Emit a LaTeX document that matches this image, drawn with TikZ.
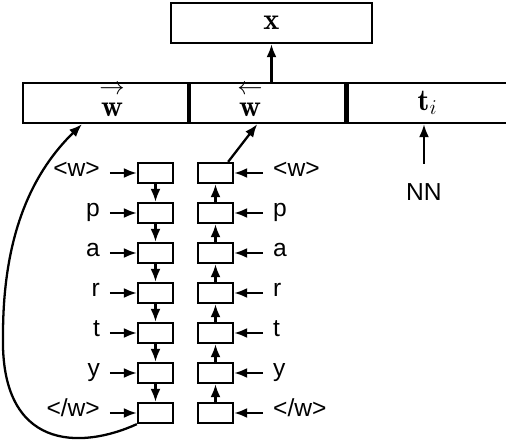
\documentclass[tikz,border=0pt]{standalone}
\usepackage{fontspec}
\setsansfont{Liberation Sans}
\usetikzlibrary{positioning,arrows.meta}

\tikzset{
  blocco/.style={draw, line width=1.3pt, minimum height=0.8cm, inner sep=0pt,
    font=\fontsize{17.28}{20}\selectfont},
  cella/.style={draw, line width=1.3pt, minimum width=0.7cm, minimum height=0.4cm, inner sep=0pt},
  lettera/.style={font=\sffamily\fontsize{14}{16}\selectfont, inner sep=0pt, outer sep=0.2cm},
  vettore/.style={font=\fontsize{17.28}{20}\selectfont, inner sep=0pt},
  punta/.style={font=\fontsize{14}{16}\selectfont, inner sep=0pt},
  freccia/.style={-{Latex[length=2.6mm,width=2mm]}, line width=1.3pt},
}

\begin{document}
\begin{tikzpicture}
        \useasboundingbox (0,0) rectangle (10.12,-8.86);

        % Livello superiore
        \node[blocco, minimum width=4.02cm] (xb) at (5.43,-0.46) {$\mathbf{x}$};

        % Rappresentazione della parola
        \node[blocco, minimum width=3.3cm] (fw) at (2.11,-2.06) {};
        \node[blocco, minimum width=3.1cm, right=0pt of fw] (bw) {};
        \node[blocco, minimum width=3.2cm, right=0pt of bw] (tb) {$\mathbf{t}_i$};
        \node[vettore] (fwl) at (2.24,-2.2) {$\mathbf{w}$};
        \node[punta] (fwa) at (2.24,-1.8) {$\rightarrow$};
        \node[vettore] (bwl) at (5.0,-2.2) {$\mathbf{w}$};
        \node[punta] (bwa) at (5.0,-1.8) {$\leftarrow$};

        \draw[freccia] (xb.south |- bw.north) -- (xb.south);

        % Catene di caratteri
        \foreach \c [count=\i] in {{\textless w\textgreater}, p, a, r, t, y, {\textless/w\textgreater}} {
            \node[cella] (fc\i) at (3.11,-2.66-0.8*\i) {};
            \node[cella] (bc\i) at (4.31,-2.66-0.8*\i) {};
            \node[lettera, left=0.54cm of fc\i, anchor=mid east] (fl\i) {\c};
            \node[lettera, right=0.58cm of bc\i, anchor=mid west] (bl\i) {\c};
            \draw[freccia] (fl\i.mid east) -- (fc\i.west);
            \draw[freccia] (bl\i.mid west) -- (bc\i.east);
        }
        \foreach \i/\j in {1/2,2/3,3/4,4/5,5/6,6/7} {
            \draw[freccia] (fc\i) -- (fc\j);
            \draw[freccia] (bc\j) -- (bc\i);
        }

        % Collegamenti verso l'alto
        \draw[freccia] ([xshift=-0.12cm]bc1.north east) -- ([xshift=-0.21cm]bw.south);
        \draw[freccia] (fc7.south west) .. controls (1.6,-9.0) and (0,-9.0) .. (0.06,-6.7)
            .. controls (0.06,-4.6) and (0.7,-3.4) .. ([xshift=-0.47cm]fw.south);

        % Etichetta
        \node[lettera] (nn) at (8.48,-3.84) {NN};
        \draw[freccia, shorten <=0.2cm] (nn.north) -- (nn.north |- tb.south);
    \end{tikzpicture}
\end{document}
